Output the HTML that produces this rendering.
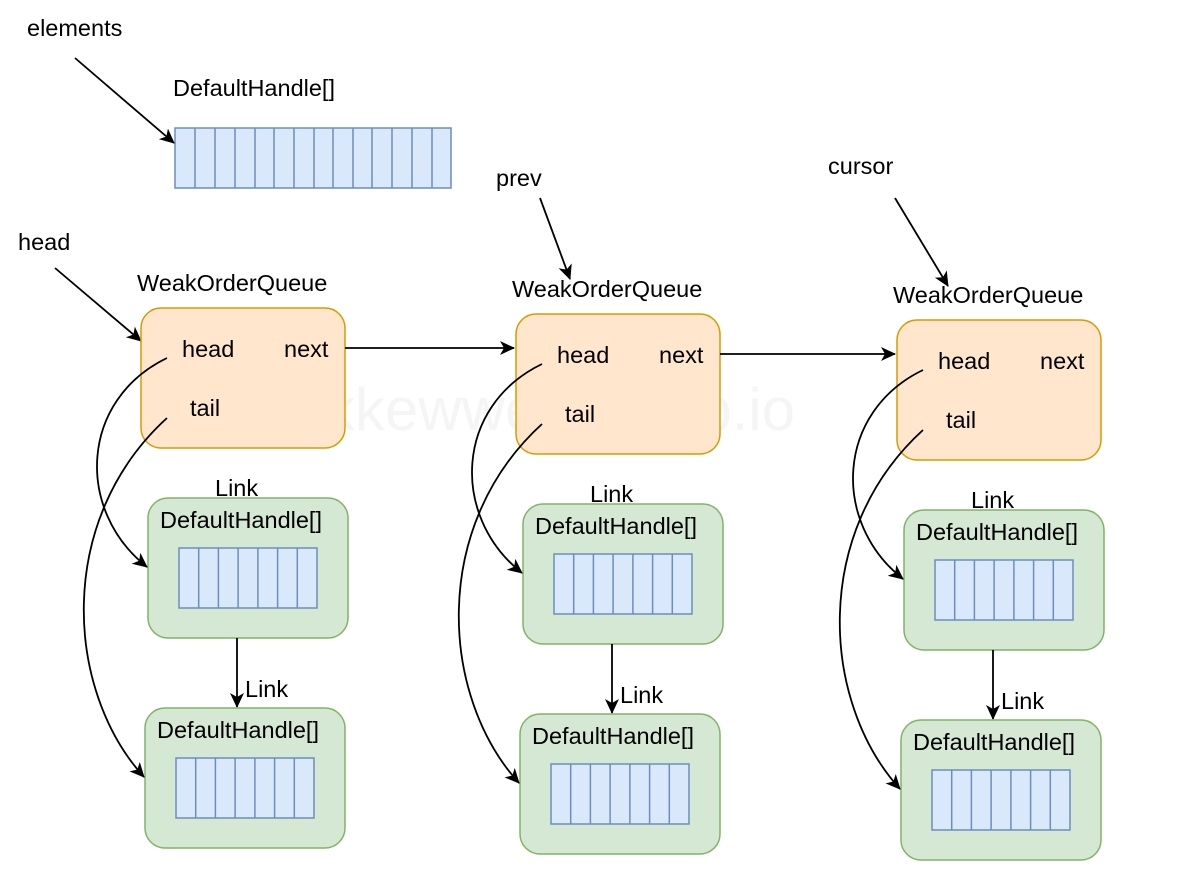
<!DOCTYPE html>
<html><head><meta charset="utf-8"><style>
html,body{margin:0;padding:0;background:#fff;}
svg{display:block;font-family:"Liberation Sans",Arial,sans-serif;}
text{font-size:23.5px;fill:#000;}
</style></head><body>
<svg width="1182" height="888" viewBox="0 0 1182 888" xmlns="http://www.w3.org/2000/svg">
<defs>
<marker id="a" markerWidth="16" markerHeight="14" refX="14" refY="7" orient="auto" markerUnits="userSpaceOnUse">
<path d="M0,0 L15,7 L0,14 L4,7 Z" fill="#000"/></marker>
<g id="arr7">
<rect x="0" y="0" width="138" height="60" fill="#dae8fc" stroke="#6c8ebf" stroke-width="1.5"/>
<path d="M19.7,0V60M39.4,0V60M59.1,0V60M78.9,0V60M98.6,0V60M118.3,0V60" stroke="#6c8ebf" stroke-width="1.5"/>
</g>
<g id="col">
<text x="137" y="291">WeakOrderQueue</text>
<rect x="141" y="308" width="204" height="140" rx="20" fill="#ffe6cc" stroke="#d79b00" stroke-width="1.5"/>
<text x="182" y="357">head</text>
<text x="284" y="357">next</text>
<text x="190" y="416">tail</text>
<text x="215" y="496">Link</text>
<rect x="148" y="498" width="200" height="140" rx="20" fill="#d5e8d4" stroke="#82b366" stroke-width="1.5"/>
<text x="160" y="528">DefaultHandle[]</text>
<use href="#arr7" x="179" y="548"/>
<line x1="237" y1="638" x2="237" y2="707" stroke="#000" stroke-width="1.8" marker-end="url(#a)"/>
<text x="245" y="697">Link</text>
<rect x="145" y="708" width="200" height="140" rx="20" fill="#d5e8d4" stroke="#82b366" stroke-width="1.5"/>
<text x="157" y="738">DefaultHandle[]</text>
<use href="#arr7" x="176" y="758"/>
<path d="M167,358 C80,400 75,510 147,567" fill="none" stroke="#000" stroke-width="1.8" marker-end="url(#a)"/>
<path d="M167,418 C55,520 65,690 144,777" fill="none" stroke="#000" stroke-width="1.8" marker-end="url(#a)"/>
</g>
</defs>
<text x="560" y="430" text-anchor="middle" style="font-size:60px;fill:#f5f5f5">kkewwei.github.io</text>
<text x="27" y="36">elements</text>
<text x="173" y="96">DefaultHandle[]</text>
<rect x="175" y="128" width="276" height="60" fill="#dae8fc" stroke="#6c8ebf" stroke-width="1.5"/>
<path d="M195,128V188M215,128V188M235,128V188M255,128V188M274,128V188M294,128V188M314,128V188M333,128V188M353,128V188M372,128V188M392,128V188M412,128V188M432,128V188" stroke="#6c8ebf" stroke-width="1.5"/>
<line x1="75" y1="58" x2="174" y2="143" stroke="#000" stroke-width="1.8" marker-end="url(#a)"/>
<text x="18" y="250">head</text>
<line x1="55" y1="268" x2="141" y2="341" stroke="#000" stroke-width="1.8" marker-end="url(#a)"/>
<text x="496" y="186">prev</text>
<line x1="540" y1="198" x2="570" y2="279" stroke="#000" stroke-width="1.8" marker-end="url(#a)"/>
<text x="828" y="174">cursor</text>
<line x1="895" y1="198" x2="948" y2="286" stroke="#000" stroke-width="1.8" marker-end="url(#a)"/>
<use href="#col"/>
<use href="#col" x="375" y="6"/>
<use href="#col" x="756" y="12"/>
<line x1="345" y1="348" x2="514" y2="348" stroke="#000" stroke-width="1.8" marker-end="url(#a)"/>
<line x1="720" y1="354" x2="895" y2="354" stroke="#000" stroke-width="1.8" marker-end="url(#a)"/>
</svg>
</body></html>
